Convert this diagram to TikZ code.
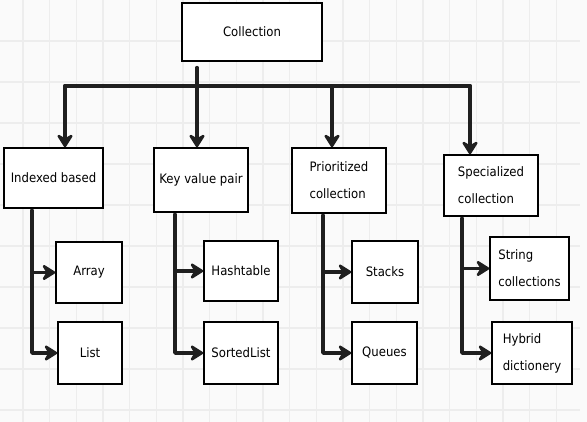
\documentclass[tikz,border=0pt]{standalone}
\usepackage{fontspec}
\setmainfont{DejaVu Sans Condensed}
\usetikzlibrary{arrows.meta}
\begin{document}
\begin{tikzpicture}[x=1pt,y=-1pt,
  box/.style={draw=black,line width=1.5pt,fill=white,inner sep=0pt,font=\fontsize{13}{27}\selectfont},
  txt/.style={align=left},
  conn/.style={line width=3.8pt,draw=black!88,line cap=round,line join=round},
  arr/.style={conn,-{Stealth[length=16pt,width=20pt,inset=6pt,round,line width=2.5pt]}},
  gridline/.style={draw=black!7,line width=1.4pt}]
\useasboundingbox (0,0) rectangle (587,422);
\fill[black!2] (0,0) rectangle (587,422);
\foreach \k in {0,...,20} {\draw[gridline] ({23+26.67*\k},0) -- ({23+26.67*\k},422);}
\foreach \k in {1,...,10} {\draw[gridline] (0,{41*\k}) -- (580,{41*\k});}
% top
\node[box,minimum width=140pt,minimum height=58pt] (col) at (252,32) {Collection};
% level 2
\node[box,minimum width=99pt,minimum height=60pt] (ib) at (53.5,178) {Indexed based};
\node[box,minimum width=94pt,minimum height=64pt] (kv) at (201,180) {Key value pair};
\node[box,minimum width=94pt,minimum height=65pt,txt] (pc) at (339,180.5) {Prioritized\\collection};
\node[box,minimum width=94pt,minimum height=61pt,txt] (sc) at (491,185.5) {Specialized\\collection};
% level 3
\node[box,minimum width=66pt,minimum height=61pt] (arr) at (89,272.5) {Array};
\node[box,minimum width=64pt,minimum height=62pt] (lst) at (90,353) {List};
\node[box,minimum width=74pt,minimum height=60pt] (ht) at (241,271) {Hashtable};
\node[box,minimum width=74pt,minimum height=62pt] (sl) at (241,353) {SortedList};
\node[box,minimum width=66pt,minimum height=62pt] (stk) at (385,272) {Stacks};
\node[box,minimum width=65pt,minimum height=62pt] (que) at (384.5,353) {Queues};
\node[box,minimum width=79pt,minimum height=63pt,txt] (str) at (529.5,268.5) {String\\collections};
\node[box,minimum width=80pt,minimum height=62pt,txt] (hyb) at (532,353) {Hybrid\\dictionery};
% bus
\coordinate (busL) at (65,86);
\coordinate (busR) at (470,86);
\coordinate (colout) at ([xshift=-55pt]col.south);
\coordinate (busP) at (332,86);
\draw[conn] (busL) -- (busR);
\draw[arr,shorten <=6pt] (colout) -- (colout |- kv.north);
\draw[arr] (busL) -- (busL |- ib.north);
\draw[arr] (busP) -- (busP |- pc.north);
\draw[arr] (busR) -- (busR |- sc.north);
% level 3 connectors
\draw[arr,shorten <=2pt] ([xshift=-21.5pt]ib.south) |- (arr);
\draw[arr,shorten <=2pt] ([xshift=-21.5pt]ib.south) |- (lst);
\draw[arr,shorten <=2pt] ([xshift=-26pt]kv.south) |- (ht);
\draw[arr,shorten <=2pt] ([xshift=-26pt]kv.south) |- (sl);
\draw[arr,shorten <=2pt] ([xshift=-16pt]pc.south) |- (stk);
\draw[arr,shorten <=2pt] ([xshift=-16pt]pc.south) |- (que);
\draw[arr,shorten <=2pt] ([xshift=-29pt]sc.south) |- (str);
\draw[arr,shorten <=2pt] ([xshift=-29pt]sc.south) |- (hyb);
\end{tikzpicture}
\end{document}
